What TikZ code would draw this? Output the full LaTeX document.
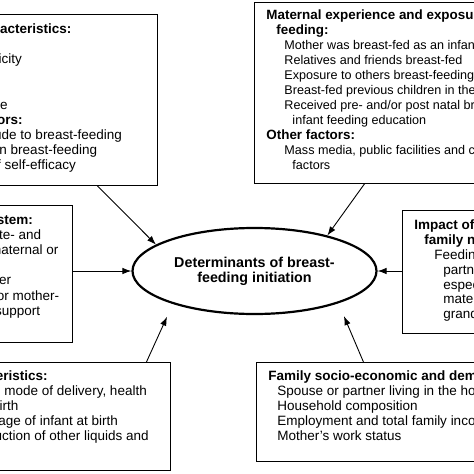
\documentclass[tikz,border=0pt]{standalone}
\usepackage{fontspec}
\setmainfont{Liberation Sans}
\usetikzlibrary{arrows.meta,shapes.geometric}

% text block of a factor box: width, height, lines
\newcommand{\boxtext}[3]{\parbox[c][#2][t]{#1}{\raggedright\leftskip=12pt\strut#3}}
\newcommand{\ind}[1]{\hspace*{#1pt}}
\newcommand{\bighd}[1]{\textbf{\fontsize{13.4}{15}\selectfont #1}}

\tikzset{
  factor/.style={draw, line width=0.9pt, inner xsep=0pt, inner ysep=8pt, anchor=north west,
    font=\fontsize{13.5}{15.2}\selectfont},
  core/.style={draw, ellipse, line width=2.2pt, minimum width=244pt, minimum height=86pt,
    inner sep=0pt, align=center, font=\bfseries\fontsize{14.3}{15}\selectfont},
  link/.style={line width=0.9pt, -{Latex[length=9pt,width=6.5pt]}},
}

\begin{document}
\begin{tikzpicture}[x=1pt,y=-1pt]
  \useasboundingbox (0,0) rectangle (474,474);
  \clip (0,0) rectangle (474,474);

  % Central ellipse
  \node[core] (core) at (254.5,271) {Determinants of breast-\\feeding initiation};

  % Top left: maternal characteristics
  \node[factor] (maternal) at (-100,14) {\boxtext{257pt}{155pt}{%
    \textbf{Maternal characteristics:}\\
    \ind{9}Parity\\
    \ind{9}Minority ethnicity\\
    \ind{9}Income\\
    \ind{9}Education\\
    \ind{9}Parental leave\\
    \textbf{Personal factors:}\\
    \ind{9}Positive attitude to breast-feeding\\
    \ind{9}Knowledge on breast-feeding\\
    \ind{9}Perception of self-efficacy}};

  % Top right: experience and exposure
  \node[factor, inner ysep=7pt, font=\fontsize{12.6}{15}\selectfont] (experience) at (254,2)
    {\boxtext{400pt}{167pt}{%
    \bighd{Maternal experience and exposure to breast-}\\
    \ind{10}\bighd{feeding:}\\
    \ind{18}Mother was breast-fed as an infant\\
    \ind{18}Relatives and friends breast-fed\\
    \ind{18}Exposure to others breast-feeding\\
    \ind{18}Breast-fed previous children in the past\\
    \ind{18}Received pre- and/or post natal breast-/\\
    \ind{26}infant feeding education\\
    \bighd{Other factors:}\\
    \ind{18}Mass media, public facilities and cultural\\
    \ind{26}factors}};

  % Middle left: health care system
  \node[factor] (health) at (-107,205) {\boxtext{179pt}{121pt}{%
    \textbf{Health care system:}\\
    \ind{9}Delivery in state- and\\
    \ind{24}university maternal or\\
    \ind{17}hospitals\\
    \ind{9}Type of provider\\
    \ind{9}Baby-friendly or mother-\\
    \ind{17}friendly unit support}};

  % Middle right: social and family network
  \node[factor, inner ysep=9pt, font=\fontsize{13.5}{14.8}\selectfont] (social) at (402,210)
    {\boxtext{250pt}{105pt}{%
    \textbf{Impact of social and}\\
    \ind{10}\textbf{family network:}\\
    \ind{20}Feeding preference of\\
    \ind{29}partner, relatives,\\
    \ind{29}especially the\\
    \ind{29}maternal\\
    \ind{29}grandmother}};

  % Bottom left: infant characteristics
  \node[factor, font=\fontsize{13.5}{15}\selectfont] (infant) at (-105,362) {\boxtext{275pt}{92pt}{%
    \textbf{Infant characteristics:}\\
    \ind{19}Birth weight, mode of delivery, health\\
    \ind{30}status at birth\\
    \ind{19}Gestational age of infant at birth\\
    \ind{19}Early introduction of other liquids and\\
    \ind{30}foods}};

  % Bottom right: family socio-economic factors
  \node[factor, font=\fontsize{13.5}{15}\selectfont] (family) at (256,362) {\boxtext{400pt}{83pt}{%
    \textbf{Family socio-economic and demographic factors:}\\
    \ind{9}Spouse or partner living in the household\\
    \ind{9}Household composition\\
    \ind{9}Employment and total family income\\
    \ind{9}Mother's work status}};

  % Arrows into the ellipse
  \draw[link] ([xshift=68.5pt]maternal.south) -- (core.165);
  \draw[link] ([xshift=-90pt]experience.south) -- (core.26);
  \draw[link] (health.east |- core.west) -- (core.west);
  \draw[link] (social.west |- core.east) -- (core.east);
  \draw[link, shorten >=14pt] ([xshift=113.5pt]infant.north) -- (core.202);
  \draw[link, shorten >=14pt] ([xshift=-93pt]family.north) -- (core.339);
\end{tikzpicture}
\end{document}
